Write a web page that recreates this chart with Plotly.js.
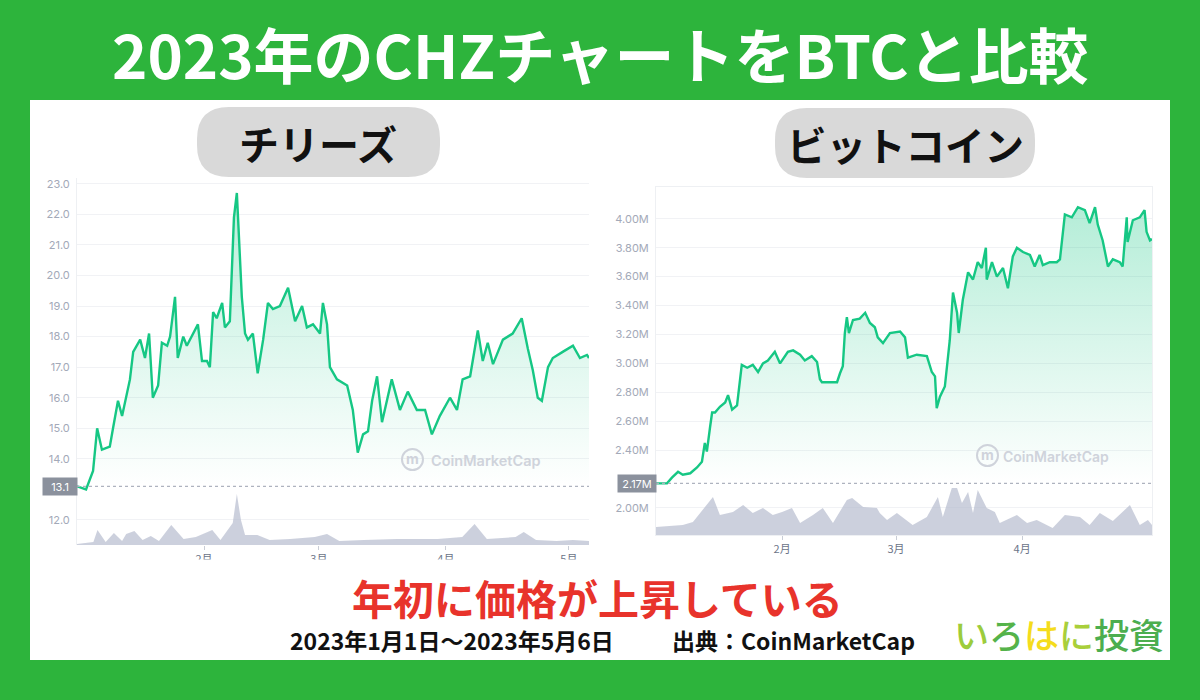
<!DOCTYPE html>
<html><head><meta charset="utf-8">
<script src="https://cdn.plot.ly/plotly-3.0.1.min.js"></script>
<style>html,body{margin:0;padding:0;background:#2db43c}#chart{width:1200px;height:700px}</style>
</head><body><div id="chart"></div>
<script>
// ---------- DATA ----------
const chzDates = ['2023-01-01 00:00','2023-01-03 05:00','2023-01-04 22:00','2023-01-05 22:00','2023-01-07 02:00','2023-01-09 00:00','2023-01-09 19:00','2023-01-11 00:00','2023-01-12 00:00','2023-01-13 05:00','2023-01-13 22:00','2023-01-14 17:00','2023-01-16 10:00','2023-01-17 14:00','2023-01-18 14:00','2023-01-19 12:00','2023-01-20 19:00','2023-01-21 17:00','2023-01-23 00:00','2023-01-23 17:00','2023-01-24 22:00','2023-01-25 14:00','2023-01-26 22:00','2023-01-27 19:00','2023-01-29 00:00','2023-01-30 12:00','2023-01-31 12:00','2023-02-01 17:00','2023-02-02 10:00','2023-02-03 05:00','2023-02-04 02:00','2023-02-05 10:00','2023-02-06 02:00','2023-02-07 07:00','2023-02-08 07:00','2023-02-09 00:00','2023-02-09 12:00','2023-02-10 05:00','2023-02-11 00:00','2023-02-11 17:00','2023-02-12 22:00','2023-02-14 02:00','2023-02-15 10:00','2023-02-16 14:00','2023-02-17 19:00','2023-02-19 12:00','2023-02-21 12:00','2023-02-23 05:00','2023-02-24 22:00','2023-02-26 02:00','2023-02-27 14:00','2023-03-01 07:00','2023-03-02 00:00','2023-03-03 00:00','2023-03-03 17:00','2023-03-05 10:00','2023-03-07 22:00','2023-03-09 07:00','2023-03-10 12:00','2023-03-11 19:00','2023-03-13 00:00','2023-03-14 00:00','2023-03-15 05:00','2023-03-16 10:00','2023-03-18 19:00','2023-03-20 19:00','2023-03-22 17:00','2023-03-24 22:00','2023-03-26 22:00','2023-03-28 14:00','2023-03-30 12:00','2023-04-02 00:00','2023-04-03 17:00','2023-04-05 02:00','2023-04-06 22:00','2023-04-08 19:00','2023-04-10 00:00','2023-04-11 05:00','2023-04-12 12:00','2023-04-14 22:00','2023-04-17 07:00','2023-04-19 12:00','2023-04-21 00:00','2023-04-22 05:00','2023-04-23 10:00','2023-04-24 10:00','2023-04-25 22:00','2023-04-27 02:00','2023-04-29 12:00','2023-05-02 00:00','2023-05-03 17:00','2023-05-05 10:00','2023-05-05 22:00'];
const chzPrice = [13.1,13.0,13.6,15.0,14.3,14.4,15.0,15.9,15.4,16.2,16.6,17.5,17.9,17.3,18.1,16.0,16.4,17.8,17.7,18.0,19.3,17.3,18.0,17.7,18.0,18.4,17.2,17.2,17.0,18.8,18.6,19.1,18.3,18.5,21.9,22.7,21.3,19.3,18.1,17.9,18.1,16.8,17.9,19.1,18.9,19.0,19.6,18.5,19.0,18.3,18.4,18.1,19.1,18.4,17.0,16.6,16.4,15.6,14.2,14.8,14.9,15.9,16.7,15.2,16.6,15.6,16.2,15.6,15.6,14.8,15.4,16.0,15.6,16.6,16.7,18.2,17.2,17.8,17.1,17.9,18.1,18.6,17.6,16.9,16.0,15.9,17.0,17.3,17.5,17.7,17.3,17.4,17.3];

const chzVolDates = ['2023-01-01','2023-01-05','2023-01-06','2023-01-08','2023-01-10','2023-01-12','2023-01-13','2023-01-15','2023-01-17','2023-01-19','2023-01-21','2023-01-24','2023-01-27','2023-01-30','2023-02-03','2023-02-05','2023-02-08','2023-02-09','2023-02-10','2023-02-11','2023-02-14','2023-02-17','2023-02-22','2023-02-28','2023-03-03','2023-03-06','2023-03-12','2023-03-20','2023-03-30','2023-04-05','2023-04-08','2023-04-11','2023-04-18','2023-04-20','2023-04-23','2023-04-28','2023-05-02','2023-05-05 22:00'];
const chzVolume = [1,3,15,3,12,4,11,14,5,9,4,20,6,8,15,5,22,51,25,10,10,5,6,8,11,4,5,6,6,8,21,6,8,13,5,4,5,4];

const btcDates = ['2023-01-01 00:00','2023-01-03 17:00','2023-01-04 22:00','2023-01-06 10:00','2023-01-07 14:00','2023-01-09 10:00','2023-01-11 02:00','2023-01-12 07:00','2023-01-13 00:00','2023-01-13 12:00','2023-01-14 07:00','2023-01-14 19:00','2023-01-15 12:00','2023-01-16 17:00','2023-01-18 00:00','2023-01-18 17:00','2023-01-19 17:00','2023-01-20 22:00','2023-01-22 02:00','2023-01-23 10:00','2023-01-24 19:00','2023-01-26 02:00','2023-01-27 07:00','2023-01-28 12:00','2023-01-30 05:00','2023-01-31 12:00','2023-02-02 10:00','2023-02-03 17:00','2023-02-05 10:00','2023-02-06 14:00','2023-02-08 07:00','2023-02-09 14:00','2023-02-10 07:00','2023-02-10 19:00','2023-02-12 19:00','2023-02-14 12:00','2023-02-15 05:00','2023-02-15 22:00','2023-02-16 10:00','2023-02-16 22:00','2023-02-17 10:00','2023-02-18 10:00','2023-02-20 02:00','2023-02-21 10:00','2023-02-22 14:00','2023-02-23 19:00','2023-02-24 12:00','2023-02-25 19:00','2023-02-27 12:00','2023-03-02 00:00','2023-03-03 05:00','2023-03-03 22:00','2023-03-06 02:00','2023-03-08 14:00','2023-03-09 19:00','2023-03-10 14:00','2023-03-11 00:00','2023-03-11 19:00','2023-03-13 00:00','2023-03-13 17:00','2023-03-14 05:00','2023-03-15 00:00','2023-03-16 00:00','2023-03-16 10:00','2023-03-17 10:00','2023-03-18 17:00','2023-03-19 22:00','2023-03-21 02:00','2023-03-22 02:00','2023-03-23 02:00','2023-03-23 07:00','2023-03-24 14:00','2023-03-25 19:00','2023-03-27 07:00','2023-03-28 12:00','2023-03-29 17:00','2023-03-30 17:00','2023-04-01 05:00','2023-04-02 22:00','2023-04-04 02:00','2023-04-05 07:00','2023-04-06 02:00','2023-04-07 19:00','2023-04-09 12:00','2023-04-10 07:00','2023-04-11 12:00','2023-04-13 05:00','2023-04-14 17:00','2023-04-16 10:00','2023-04-17 14:00','2023-04-18 22:00','2023-04-19 14:00','2023-04-20 19:00','2023-04-22 02:00','2023-04-23 07:00','2023-04-25 00:00','2023-04-25 17:00','2023-04-26 17:00','2023-04-26 22:00','2023-04-28 05:00','2023-04-29 22:00','2023-05-01 02:00','2023-05-01 14:00','2023-05-02 10:00','2023-05-02 22:00'];
const btcPriceM = [2.17,2.17,2.21,2.25,2.23,2.24,2.28,2.32,2.45,2.39,2.56,2.66,2.66,2.70,2.73,2.78,2.68,2.71,2.99,2.97,2.99,2.94,3.00,3.02,3.08,3.00,3.08,3.09,3.06,3.02,3.05,3.01,2.89,2.87,2.87,2.87,2.93,2.98,3.21,3.32,3.21,3.30,3.31,3.35,3.28,3.25,3.18,3.14,3.21,3.22,3.18,3.04,3.06,3.05,2.94,2.91,2.69,2.77,2.84,3.02,3.16,3.49,3.35,3.21,3.44,3.63,3.58,3.70,3.66,3.80,3.58,3.70,3.60,3.66,3.52,3.74,3.80,3.77,3.75,3.67,3.75,3.68,3.70,3.70,3.72,4.03,4.01,4.08,4.06,3.97,4.08,3.96,3.85,3.67,3.72,3.70,3.67,4.01,3.84,3.99,4.01,4.06,3.91,3.85,3.86];

const btcVolDates = ['2023-01-01 00:00','2023-01-07 14:00','2023-01-10 02:00','2023-01-13 12:00','2023-01-15 00:00','2023-01-16 17:00','2023-01-19 22:00','2023-01-22 10:00','2023-01-24 19:00','2023-01-27 07:00','2023-01-29 17:00','2023-02-01 00:00','2023-02-03 10:00','2023-02-05 10:00','2023-02-08 14:00','2023-02-11 00:00','2023-02-13 12:00','2023-02-16 22:00','2023-02-18 05:00','2023-02-20 22:00','2023-02-24 07:00','2023-02-25 00:00','2023-02-26 19:00','2023-03-01 05:00','2023-03-05 02:00','2023-03-08 14:00','2023-03-11 07:00','2023-03-12 12:00','2023-03-14 17:00','2023-03-16 00:00','2023-03-17 05:00','2023-03-18 17:00','2023-03-19 22:00','2023-03-21 02:00','2023-03-23 07:00','2023-03-25 07:00','2023-03-26 12:00','2023-03-30 17:00','2023-04-02 05:00','2023-04-04 14:00','2023-04-08 12:00','2023-04-11 12:00','2023-04-15 05:00','2023-04-17 14:00','2023-04-20 02:00','2023-04-23 07:00','2023-04-27 12:00','2023-04-29 22:00','2023-05-01 22:00','2023-05-02 22:00'];
const btcVolume = [8,10,13,30,38,20,23,30,22,27,20,23,27,12,20,27,12,35,37,28,27,22,15,22,10,18,38,18,47,47,32,43,22,45,27,23,12,20,12,15,7,20,18,10,22,14,30,10,15,10];

const chzTickVals = [12,14,15,16,17,18,19,20,21,22,23];
const chzTickText = ['12.0','14.0','15.0','16.0','17.0','18.0','19.0','20.0','21.0','22.0','23.0'];
const btcTickVals = [2.0,2.4,2.6,2.8,3.0,3.2,3.4,3.6,3.8,4.0];
const btcTickText = ['2.00M','2.40M','2.60M','2.80M','3.00M','3.20M','3.40M','3.60M','3.80M','4.00M'];
const monthTickVals = ['2023-02-01','2023-03-01','2023-04-01','2023-05-01'];
const monthTickText = ['2月','3月','4月','5月'];

// ---------- LAYOUT HELPERS ----------
const W = 1200, H = 700;
const px = x => x / W, py = y => 1 - y / H;
function rr(x0, y0, x1, y1, r) {
  const X = v => px(v).toFixed(5), Y = v => py(v).toFixed(5);
  return `M${X(x0+r)},${Y(y0)} L${X(x1-r)},${Y(y0)} Q${X(x1)},${Y(y0)} ${X(x1)},${Y(y0+r)} L${X(x1)},${Y(y1-r)} Q${X(x1)},${Y(y1)} ${X(x1-r)},${Y(y1)} L${X(x0+r)},${Y(y1)} Q${X(x0)},${Y(y1)} ${X(x0)},${Y(y1-r)} L${X(x0)},${Y(y0+r)} Q${X(x0)},${Y(y0)} ${X(x0+r)},${Y(y0)} Z`;
}
const GREEN = '#16c784';
const JP = '"Noto Sans CJK JP", "Noto Sans", sans-serif';
const NUM = 'Inter, "Noto Sans", sans-serif';

const traces = [
  {x: chzVolDates, y: chzVolume, xaxis: 'x', yaxis: 'y3', type: 'scatter', mode: 'lines',
   line: {width: 0, shape: 'linear'}, fill: 'tozeroy', fillcolor: 'rgba(176,183,203,0.65)', hoverinfo: 'skip'},
  {x: chzDates, y: chzPrice, xaxis: 'x', yaxis: 'y', type: 'scatter', mode: 'lines',
   line: {color: GREEN, width: 2.4}, fill: 'tozeroy',
   fillgradient: {type: 'vertical', start: chzPrice[0], stop: Math.max(...chzPrice),
     colorscale: [[0, 'rgba(22,199,132,0.0)'], [1, 'rgba(22,199,132,0.30)']]}, hoverinfo: 'skip'},
  {x: btcVolDates, y: btcVolume, xaxis: 'x2', yaxis: 'y4', type: 'scatter', mode: 'lines',
   line: {width: 0}, fill: 'tozeroy', fillcolor: 'rgba(176,183,203,0.65)', hoverinfo: 'skip'},
  {x: btcDates, y: btcPriceM, xaxis: 'x2', yaxis: 'y2', type: 'scatter', mode: 'lines',
   line: {color: GREEN, width: 2.4}, fill: 'tozeroy',
   fillgradient: {type: 'vertical', start: btcPriceM[0], stop: Math.max(...btcPriceM),
     colorscale: [[0, 'rgba(22,199,132,0.0)'], [1, 'rgba(22,199,132,0.32)']]}, hoverinfo: 'skip'}
];

const yTickFont = {family: NUM, size: 11, color: '#a3a9b8'};
const xTickFont = {family: JP, size: 11, color: '#6b7588'};

function txt(x, y, text, font, extra) {
  return Object.assign({xref: 'paper', yref: 'paper', x: px(x), y: py(y), text: text, showarrow: false,
    xanchor: 'center', yanchor: 'middle', font: font}, extra || {});
}

const layout = {
  width: W, height: H, margin: {l: 0, r: 0, t: 0, b: 0},
  paper_bgcolor: '#2db43c', plot_bgcolor: 'rgba(0,0,0,0)', showlegend: false,
  xaxis: {domain: [px(77), px(589)], anchor: 'y', type: 'date',
    range: [chzDates[0], chzDates[chzDates.length - 1]],
    tickvals: monthTickVals, ticktext: monthTickText, tickfont: xTickFont,
    ticks: 'outside', ticklen: 4, tickcolor: '#c9cdd6', showgrid: false, zeroline: false, showline: false, fixedrange: true},
  yaxis: {domain: [py(545), py(178)], anchor: 'x', range: [11.18, 23.19],
    tickvals: chzTickVals, ticktext: chzTickText, tickfont: yTickFont, ticklabelstandoff: 4,
    showgrid: true, gridcolor: '#f1f2f5', gridwidth: 1, zeroline: false,
    showline: true, linecolor: '#eef0f3', ticks: '', fixedrange: true},
  yaxis3: {domain: [py(545), py(480)], anchor: 'x', range: [0, 65], visible: false, fixedrange: true},
  xaxis2: {domain: [px(656), px(1152)], anchor: 'y2', type: 'date',
    range: [btcDates[0], btcDates[btcDates.length - 1]],
    tickvals: monthTickVals.slice(0, 3), ticktext: monthTickText.slice(0, 3), tickfont: xTickFont,
    ticks: 'outside', ticklen: 4, tickcolor: '#c9cdd6', showgrid: false, zeroline: false,
    showline: true, mirror: true, linecolor: '#eef0f3', fixedrange: true},
  yaxis2: {domain: [py(535), py(187)], anchor: 'x2', range: [1.813, 4.22],
    tickvals: btcTickVals, ticktext: btcTickText, tickfont: yTickFont, ticklabelstandoff: 4,
    showgrid: true, gridcolor: '#f1f2f5', gridwidth: 1, zeroline: false,
    showline: true, mirror: true, linecolor: '#eef0f3', ticks: '', fixedrange: true},
  yaxis4: {domain: [py(535), py(480)], anchor: 'x2', range: [0, 55], visible: false, fixedrange: true},
  shapes: [
    {type: 'rect', xref: 'paper', yref: 'paper', x0: px(30), x1: px(1170), y0: py(660), y1: py(100),
     fillcolor: '#ffffff', line: {width: 0}, layer: 'below'},
    {type: 'path', xref: 'paper', yref: 'paper', path: rr(197, 107, 440, 177, 32),
     fillcolor: '#d9d9d9', line: {width: 0}, layer: 'above'},
    {type: 'path', xref: 'paper', yref: 'paper', path: rr(775, 108, 1035, 178, 32),
     fillcolor: '#d9d9d9', line: {width: 0}, layer: 'above'},
    {type: 'line', xref: 'x domain', yref: 'y', x0: 0, x1: 1, y0: chzPrice[0], y1: chzPrice[0],
     line: {color: '#aeb3bf', width: 1.2, dash: 'dot'}},
    {type: 'line', xref: 'x2 domain', yref: 'y2', x0: 0, x1: 1, y0: btcPriceM[0], y1: btcPriceM[0],
     line: {color: '#aeb3bf', width: 1.2, dash: 'dot'}},
    {type: 'circle', xref: 'paper', yref: 'paper', x0: px(402), x1: px(423), y0: py(470), y1: py(449),
     line: {color: '#cfd3db', width: 2}, layer: 'above'},
    {type: 'circle', xref: 'paper', yref: 'paper', x0: px(977), x1: px(998), y0: py(466), y1: py(445),
     line: {color: '#cfd3db', width: 2}, layer: 'above'},
    {type: 'rect', xref: 'paper', yref: 'paper', x0: px(40), x1: px(620), y0: py(570), y1: py(559.5),
     fillcolor: '#ffffff', line: {width: 0}, layer: 'above'}
  ],
  annotations: [
    txt(600, 52, '2023年のCHZチャートをBTCと比較', {family: JP, size: 60, color: '#ffffff', weight: 700}),
    txt(318, 143, 'チリーズ', {family: JP, size: 40, color: '#111111', weight: 700}),
    txt(905, 143, 'ビットコイン', {family: JP, size: 39.5, color: '#111111', weight: 700}),
    {xref: 'paper', yref: 'y', x: px(60), y: chzPrice[0], text: chzPrice[0].toFixed(1), showarrow: false,
     xanchor: 'center', yanchor: 'middle',
     bgcolor: '#8b919d', width: 32, height: 15, font: {family: NUM, size: 11, color: '#ffffff'}},
    {xref: 'paper', yref: 'y2', x: px(637), y: btcPriceM[0], text: btcPriceM[0].toFixed(2) + 'M', showarrow: false,
     xanchor: 'center', yanchor: 'middle',
     bgcolor: '#8b919d', width: 36, height: 15, font: {family: NUM, size: 11, color: '#ffffff'}},
    txt(412.5, 458.5, 'm', {family: NUM, size: 14, color: '#cfd3db', weight: 700}),
    txt(987.5, 454.5, 'm', {family: NUM, size: 14, color: '#cfd3db', weight: 700}),
    txt(486, 460, 'CoinMarketCap', {family: NUM, size: 14.5, color: '#cfd3db', weight: 600}),
    txt(1056, 456, 'CoinMarketCap', {family: NUM, size: 14, color: '#cfd3db', weight: 600}),
    txt(597, 597, '年初に価格が上昇している', {family: JP, size: 41, color: '#e8332b', weight: 700}),
    txt(452, 640, '2023年1月1日～2023年5月6日', {family: JP, size: 23, color: '#111111', weight: 700}),
    txt(793, 640, '出典：CoinMarketCap', {family: JP, size: 23, color: '#111111', weight: 700}),
    txt(1059, 633, '<span style="color:#9ccc3c">い</span><span style="color:#55b34a">ろ</span><span style="color:#f5dc1c">は</span><span style="color:#a9cf3b">に</span><span style="color:#4cae4f">投資</span>',
      {family: JP, size: 35, color: '#4cae4f', weight: 500})
  ]
};

Plotly.newPlot('chart', traces, layout, {staticPlot: true, displayModeBar: false});
</script></body></html>
